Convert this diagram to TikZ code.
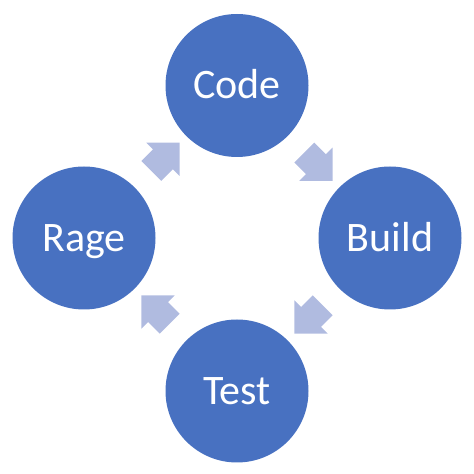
\documentclass[tikz,border=0pt]{standalone}
\usepackage{fontspec}
\setmainfont{Carlito}
\usepackage{tikz}
\usetikzlibrary{shapes.arrows, positioning, calc}
\usepackage{xcolor}
\definecolor{cBlue}{RGB}{72,113,193}
\definecolor{cArrow}{RGB}{176,187,224}
\tikzset{
  stagenode/.style={circle, fill=cBlue, minimum size=143pt, inner sep=0pt,
                    text=white, font=\fontsize{42}{48}\selectfont,
                    text height=27pt, text depth=0pt},
  flowarrow/.style={single arrow, fill=cArrow, draw=none, inner xsep=0pt,
                    inner ysep=13.8pt, single arrow head extend=9.5pt,
                    minimum height=40pt, minimum width=0pt}
}

\begin{document}
\begin{tikzpicture}[x=1pt, y=1pt]
  \useasboundingbox (0,0) rectangle (474,474);

  \node[stagenode] (code)  at (237,388.5) {Code};
  \node[stagenode] (build) at (390,236)   {Build};
  \node[stagenode] (test)  at (237,83)    {Test};
  \node[stagenode] (rage)  at (84,236)    {Rage};

  % block arrows half way between the stages
  \foreach \from/\to/\ang in {code/build/-45, build/test/-135, test/rage/135, rage/code/45}
    \node[flowarrow, rotate=\ang] (\from-\to) at ($(\from)!0.5!(\to)$) {};
\end{tikzpicture}
\end{document}
